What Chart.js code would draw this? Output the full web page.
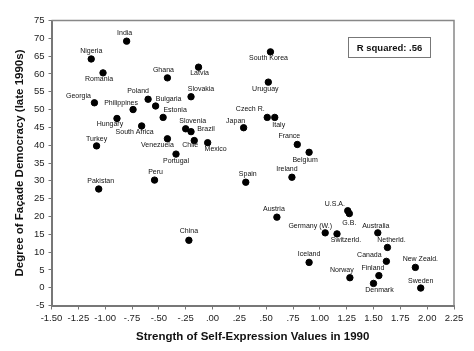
<!DOCTYPE html>
<html>
<head>
<meta charset="utf-8">
<script src="https://cdn.jsdelivr.net/npm/chart.js@4"></script>
<style>
  body { margin: 0; background: #fff; }
  canvas { display: block; }
</style>
</head>
<body>
<canvas id="chart" width="474" height="351"></canvas>
<script>
// Data
const countries = ["India", "Nigeria", "Romania", "Georgia", "Poland", "Philippines", "Bulgaria", "Hungary",
    "South Africa", "Turkey", "Pakistan", "Peru", "Ghana", "Latvia", "Slovakia", "Estonia",
    "South Korea", "Uruguay", "Czech R.", "Italy", "Slovenia", "Brazil", "Venezuela", "Chile",
    "Mexico", "Portugal", "Japan", "France", "Belgium", "Ireland", "Spain", "Austria",
    "China", "Iceland", "U.S.A.", "G.B.", "Germany (W.)", "Switzerld.", "Australia", "Netherld.",
    "Canada", "New Zeald.", "Finland", "Norway", "Denmark", "Sweden"];
const selfExpression = [-0.80, -1.13, -1.02, -1.10, -0.60, -0.74, -0.53, -0.89,
    -0.66, -1.08, -1.06, -0.54, -0.42, -0.13, -0.20, -0.46,
    0.54, 0.52, 0.51, 0.58, -0.25, -0.20, -0.42, -0.17,
    -0.045, -0.34, 0.29, 0.79, 0.90, 0.74, 0.31, 0.60,
    -0.22, 0.90, 1.26, 1.275, 1.05, 1.16, 1.54, 1.63,
    1.62, 1.89, 1.55, 1.28, 1.50, 1.94];
const facadeDemocracy = [69.2, 64.2, 60.3, 51.9, 52.9, 50.0, 51.0, 47.5,
    45.4, 39.8, 27.7, 30.2, 58.9, 61.9, 53.6, 47.8,
    66.2, 57.7, 47.8, 47.8, 44.6, 43.8, 41.8, 41.3,
    40.7, 37.5, 44.9, 40.2, 38.0, 31.0, 29.6, 19.8,
    13.3, 7.1, 21.6, 20.8, 15.4, 15.1, 15.4, 11.3,
    7.4, 5.7, 3.4, 2.8, 1.2, -0.1];
const xTickLabels = ["-1.50", "-1.25", "-1.00", "-.75", "-.50", "-.25", ".00", ".25",
    ".50", ".75", "1.00", "1.25", "1.50", "1.75", "2.00", "2.25"];
const rSquaredText = "R squared: .56";

// Label offsets from each dot (px)
const labelOffsets = [[-2, -8], [0, -8], [-4, 6], [-16, -7], [-10, -8], [-12, -7], [13, -7], [-7, 6],
    [-7, 6], [0, -7], [2, -8], [1, -8], [-4, -8], [1, 6], [10, -8], [12, -7],
    [-2, 6], [-3, 7], [-17, -8], [4, 8], [7, -8], [15, -3], [-10, 6], [-4, 5],
    [8, 6], [0, 7], [-8, -7], [-8, -8], [-4, 8], [-5, -8], [2, -8], [-3, -8],
    [0, -9], [0, -8], [-13, -7], [0, 9], [-15, -7], [9, 6], [-2, -7], [4, -7],
    [-17, -6], [5, -8], [-6, -8], [-8, -8], [6, 7], [0, -7]];

const FONT = "'Liberation Sans', Arial, sans-serif";

const pointLabels = {
    id: "pointLabels",
    afterDatasetsDraw(chart) {
        const ctx = chart.ctx;
        const meta = chart.getDatasetMeta(0);
        ctx.save();
        ctx.font = "7px " + FONT;
        ctx.fillStyle = "#111";
        ctx.textAlign = "center";
        ctx.textBaseline = "middle";
        meta.data.forEach((pt, i) => {
            const o = labelOffsets[i];
            ctx.fillText(countries[i], pt.x + o[0], pt.y + o[1]);
        });
        ctx.restore();
    }
};

const frameAndBox = {
    id: "frameAndBox",
    afterDraw(chart) {
        const { ctx, chartArea: a } = chart;
        ctx.save();
        ctx.strokeStyle = "#888";
        ctx.lineWidth = 1.5;
        ctx.beginPath();
        ctx.moveTo(a.left, a.top);
        ctx.lineTo(a.right, a.top);
        ctx.lineTo(a.right, a.bottom);
        ctx.stroke();
        // R squared box
        ctx.fillStyle = "#fff";
        ctx.fillRect(348.5, 37.5, 82, 20);
        ctx.strokeStyle = "#777";
        ctx.lineWidth = 1;
        ctx.strokeRect(348.5, 37.5, 82, 20);
        ctx.fillStyle = "#111";
        ctx.font = "bold 9.5px " + FONT;
        ctx.textAlign = "center";
        ctx.textBaseline = "middle";
        ctx.fillText(rSquaredText, 389.5, 48);
        ctx.restore();
    }
};

new Chart(document.getElementById("chart"), {
    type: "scatter",
    data: {
        datasets: [{
            data: selfExpression.map((x, i) => ({ x: x, y: facadeDemocracy[i] })),
            backgroundColor: "#000",
            borderColor: "#000",
            pointRadius: 3.2,
            pointHoverRadius: 3.2
        }]
    },
    options: {
        responsive: false,
        animation: false,
        layout: { padding: { left: 0, top: 20.5, right: 20, bottom: 0 } },
        plugins: { legend: { display: false }, tooltip: { enabled: false } },
        scales: {
            x: {
                type: "linear",
                min: -1.5,
                max: 2.25,
                afterFit(s) { s.height = 45.5; },
                afterBuildTicks(s) {
                    s.ticks = xTickLabels.map((_, i) => ({ value: -1.5 + i * 0.25 }));
                },
                ticks: {
                    autoSkip: false,
                    maxRotation: 0,
                    padding: 3,
                    color: "#222",
                    font: { family: FONT, size: 9.5 },
                    callback: (v, i) => xTickLabels[i]
                },
                grid: { display: true, drawOnChartArea: false, drawTicks: true, tickLength: 4, color: "#777" },
                border: { display: true, color: "#777", width: 2 },
                title: {
                    display: true,
                    text: "Strength of Self-Expression Values in 1990",
                    color: "#111",
                    font: { family: FONT, size: 11.5, weight: "bold" },
                    padding: { top: 0, bottom: 7 }
                }
            },
            y: {
                type: "linear",
                min: -5,
                max: 75,
                afterFit(s) { s.width = 51.5; },
                ticks: {
                    stepSize: 5,
                    padding: 4,
                    color: "#222",
                    font: { family: FONT, size: 9.5 }
                },
                grid: { display: true, drawOnChartArea: false, drawTicks: true, tickLength: 3, color: "#777" },
                border: { display: true, color: "#777", width: 2 },
                title: {
                    display: true,
                    text: "Degree of Façade Democracy (late 1990s)",
                    color: "#111",
                    font: { family: FONT, size: 11.5, weight: "bold" },
                    padding: { top: 13, bottom: 0 }
                }
            }
        }
    },
    plugins: [pointLabels, frameAndBox]
});
</script>
</body>
</html>
